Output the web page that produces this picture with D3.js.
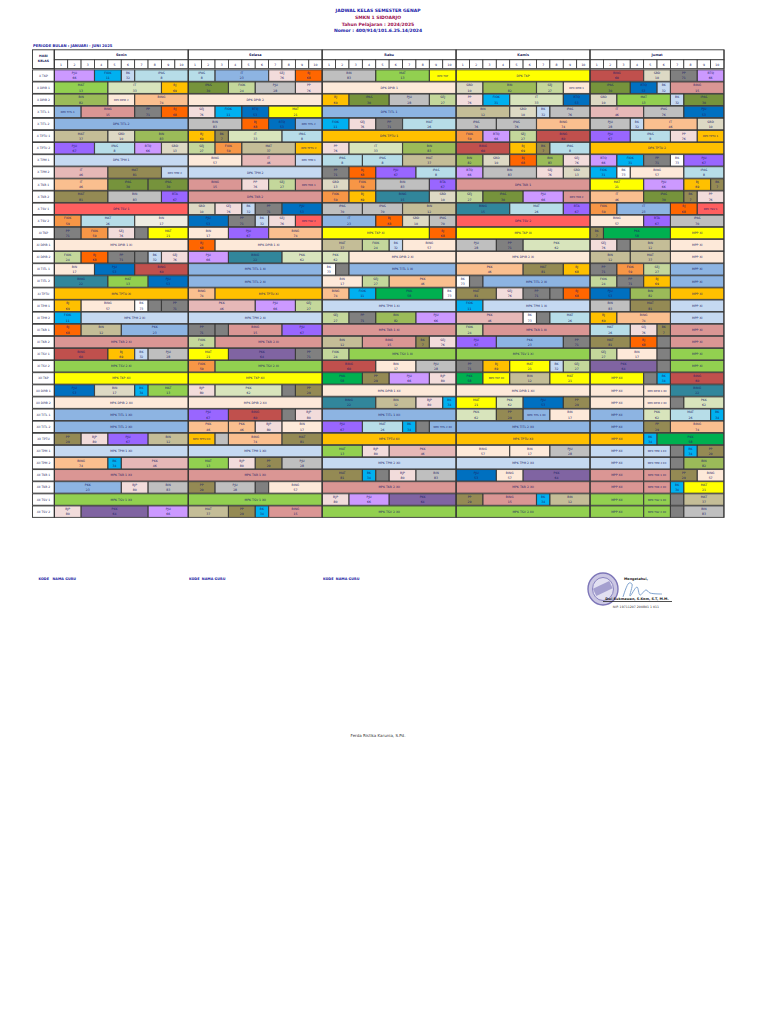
<!DOCTYPE html>
<html>
<head>
<meta charset="utf-8">
<title>Jadwal Kelas Semester Genap</title>
<script src="https://cdn.jsdelivr.net/npm/d3@7"></script>
<style>
  html, body { margin: 0; background: #fff; }
  svg { display: block; }
  text { font-family: "DejaVu Sans", sans-serif; }
</style>
</head>
<body>
<svg id="chart" width="768" height="1024"></svg>
<script>
const days = ['Senin', 'Selasa', 'Rabu', 'Kamis', 'Jumat'];
const slotLabels = [1, 2, 3, 4, 5, 6, 7, 8, 9, 10];
const classes = [
  'X TKP', 'X DPIB 1', 'X DPIB 2', 'X TITL 1', 'X TITL 2', 'X TPTU 1', 'X TPTU 2', 'X TPM 1', 'X TPM 2',
  'X TKR 1', 'X TKR 2', 'X TSV 1', 'X TSV 2',
  'XI TKP', 'XI DPIB 1', 'XI DPIB 2', 'XI TITL 1', 'XI TITL 2', 'XI TPTU', 'XI TPM 1', 'XI TPM 2',
  'XI TKR 1', 'XI TKR 2', 'XI TSV 1', 'XI TSV 2',
  'XII TKP', 'XII DPIB 1', 'XII DPIB 2', 'XII TITL 1', 'XII TITL 2', 'XII TPTU', 'XII TPM 1', 'XII TPM 2',
  'XII TKR 1', 'XII TKR 2', 'XII TSV 1', 'XII TSV 2'
];
const titleLines = ['JADWAL KELAS SEMESTER GENAP', 'SMKN 1 SIDOARJO', 'Tahun Pelajaran : 2024/2025', 'Nomor :  400/914/101.6.25.14/2024'];
const periodLabel = 'PERIODE BULAN : JANUARI - JUNI 2025';
const footerHeads = ['KODE   NAMA GURU', 'KODE  NAMA GURU', 'KODE  NAMA GURU'];

// one line per class: periods/subject/teacher code/colour group, read left to right over the week
const schedule = [
  '3/PJU/66/L 2/FIOK/11/B 1/BK/32/l 4/IPAS/8/t 2/IPAS/8/t 4/IT/23/s 2/SEJ/76/P 2/BJ/68/O 4/BIN/83/g 4/MAT/13/G 2/DPK TKP//y 10/DPK TKP//y 4/BING/60/R 2/SBD/10/k 2/PP/71/D 2/BTQ/66/L',
  '4/MAT/13/G 4/IT/33/e 2/BJ/69/a 3/IPAS/30/w 2/FIOK/24/c 3/PJU/28/g 2/PP/76/P 10/DPK DPIB 1//n 2/SBD/10/k 4/BIN/82/o 2/SEJ/27/c 2/DPK DPIB 1//n 3/IPAS/30/w 2/BTQ/53/b 1/BK/32/l 4/BING/15/r',
  '4/BIN/82/o 2/DPK DPIB 2//n 4/BING/74/q 10/DPK DPIB 2//n 2/BJ/69/a 3/IPAS/30/w 3/PJU/28/g 2/SEJ/27/c 2/PP/76/P 2/FIOK/31/B 4/IT/33/e 2/BTQ/53/b 2/SBD/10/k 4/MAT/13/G 1/BK/32/l 3/IPAS/30/w',
  '2/DPK TITL 1//s 4/BING/15/r 2/PP/71/D 2/BJ/68/O 2/SEJ/76/P 2/FIOK/11/B 2/BTQ/53/b 4/MAT/21/y 10/DPK TITL 1//s 4/BIN/12/h 2/SBD/10/k 1/BK/32/l 3/IPAS/76/g 4/IT/46/m 3/IPAS/76/g 3/PJU/53/b',
  '10/DPK TITL 2//s 4/BIN/83/g 2/BJ/68/O 2/BTQ/53/b 2/DPK TITL 2//s 2/FIOK/11/B 2/SEJ/76/P 2/PP/71/D 4/MAT/26/t 3/IPAS/76/g 3/IPAS/76/g 4/BING/74/q 3/PJU/28/g 1/BK/32/l 4/IT/46/q 2/SBD/10/k',
  '4/MAT/37/h 2/SBD/10/k 4/BIN/83/o 2/BJ/69/a 1/BK/7/f 4/IT/33/e 3/IPAS/8/t 10/DPK TPTU 1//a 2/FIOK/59/u 2/BTQ/66/L 2/SEJ/27/c 4/BING/60/R 3/PJU/67/V 3/IPAS/8/t 2/PP/76/P 2/DPK TPTU 1//a',
  '3/PJU/67/V 3/IPAS/8/t 2/BTQ/66/L 2/SBD/13/k 2/SEJ/27/c 2/FIOK/59/u 4/MAT/37/h 2/DPK TPTU 2//a 2/PP/76/P 4/IT/33/e 4/BIN/83/o 4/BING/60/R 2/BJ/69/a 1/BK/7/f 3/IPAS/8/t 10/DPK TPTU 2//a',
  '10/DPK TPM 1//l 4/BING/57/n 4/IT/46/m 2/DPK TPM 1//l 3/IPAS/8/t 3/IPAS/8/t 4/MAT/37/h 2/BIN/82/o 2/SBD/10/k 2/BJ/68/O 2/BIN/83/o 2/SEJ/76/P 2/BTQ/66/L 2/FIOK/31/B 2/PP/71/D 1/BK/73/W 3/PJU/67/V',
  '4/IT/46/m 4/MAT/81/f 2/DPK TPM 2//l 10/DPK TPM 2//l 2/PP/71/D 2/BJ/68/O 3/PJU/67/V 3/IPAS/8/t 2/BTQ/66/L 4/BIN/83/g 2/SEJ/76/P 2/SBD/13/k 2/FIOK/31/B 1/BK/73/W 4/BING/57/n 3/IPAS/8/t',
  '4/IT/46/q 3/IPAS/30/w 3/IPAS/30/w 4/BING/15/r 2/PP/76/P 2/SEJ/27/c 2/DPK TKR 1//r 2/SBD/13/k 2/FIOK/59/u 4/BIN/83/g 2/BTA/67/V 10/DPK TKR 1//r 4/MAT/21/y 3/PJU/66/L 2/BJ/69/a 1/BK/7/f',
  '4/MAT/81/f 4/BIN/83/g 2/BTA/67/V 10/DPK TKR 2//r 2/FIOK/59/u 2/BJ/69/a 4/BING/15/T 2/SBD/10/k 2/SEJ/27/c 3/IPAS/30/w 3/PJU/66/L 2/DPK TKR 2//r 4/IT/46/q 3/IPAS/30/w 1/BK/7/f 2/PP/76/P',
  '10/DPK TSV 1//Z 2/SBD/10/k 2/SEJ/76/P 1/BK/32/l 2/PP/71/D 3/PJU/53/b 3/IPAS/70/g 3/IPAS/70/g 4/BIN/12/h 4/BING/15/T 4/MAT/26/t 2/BTA/67/V 2/FIOK/59/u 4/IT/23/s 2/BJ/68/O 2/DPK TSV 1//Z',
  '2/FIOK/59/u 4/MAT/26/t 4/BIN/17/x 3/PJU/53/b 2/PP/71/D 1/BK/32/l 2/SEJ/76/P 2/DPK TSV 2//Z 4/IT/23/s 2/BJ/68/O 2/SBD/10/k 2/IPAS/70/g 10/DPK TSV 2//Z 4/BING/57/n 2/BTA/67/V 4/IPAS/70/g',
  '2/PP/71/D 2/FIOK/59/u 2/SEJ/76/P 1///D 3/MAT/21/y 3/BIN/17/n 3/PJU/67/V 4/BING/74/q 8/MPK TKP XI//y 2/BJ/68/O 10/MPK TKP XI//y 1/BK/7/f 5/PKK/58/E 4/MPP XI//y',
  '10/MPK DPIB 1 XI//n 2/BJ/68/O 8/MPK DPIB 1 XI//n 3/MAT/37/h 2/FIOK/24/c 1/BK/32/l 4/BING/57/n 3/PJU/28/g 2/PP/71/D 5/PKK/62/e 2/SEJ/76/P 1///D 3/BIN/12/h 4/MPP XI//n',
  '2/FIOK/24/c 2/BJ/68/O 2/PP/71/D 1///D 1/BK/32/l 2/SEJ/76/P 3/PJU/66/L 4/BING/22/T 3/PKK/62/e 2/PKK/62/e 8/MPK DPIB 2 XI//n 10/MPK DPIB 2 XI//n 3/BIN/12/h 3/MAT/37/h 4/MPP XI//n',
  '3/BIN/17/n 3/PJU/53/b 4/BING/60/R 10/MPK TITL 1 XI//s 1/BK/73/W 1///D 8/MPK TITL 1 XI//s 5/PKK/46/q 3/MAT/81/f 2/BJ/68/a 2/PP/71/D 2/FIOK/59/u 2/SEJ/27/c 4/MPP XI//s',
  '4/BING/22/T 3/MAT/13/G 3/PJU/53/b 10/MPK TITL 2 XI//s 3/BIN/17/n 2/SEJ/27/c 5/PKK/46/q 1/BK/73/W 1///D 8/MPK TITL 2 XI//s 2/FIOK/24/c 2/PP/71/D 2/BJ/69/a 4/MPP XI//s',
  '10/MPK TPTU XI//a 2/BING/74/q 8/MPK TPTU XI//a 2/BING/74/q 2/FIOK/11/B 5/PKK/58/E 1/BK/73/W 3/MAT/81/f 2/SEJ/76/P 2/PP/71/D 1///D 2/BJ/68/O 3/PJU/53/b 3/BIN/82/o 4/MPP XI//a',
  '2/BJ/69/a 4/BING/57/n 1/BK/73/W 1///D 2/PP/71/D 5/PKK/46/m 3/PJU/66/L 2/SEJ/27/c 10/MPK TPM 1 XI//l 2/FIOK/11/B 8/MPK TPM 1 XI//l 3/BIN/83/g 3/MAT/81/f 4/MPP XI//l',
  '2/FIOK/11/B 8/MPK TPM 2 XI//l 10/MPK TPM 2 XI//l 2/SEJ/27/c 2/PP/71/D 3/BIN/82/o 3/PJU/66/L 5/PKK/46/m 1/BK/73/W 1///D 3/MAT/26/t 2/BJ/69/a 4/BING/74/q 4/MPP XI//l',
  '2/BJ/68/O 3/BIN/12/h 5/PKK/23/s 2/PP/71/D 1///D 4/BING/15/r 3/PJU/67/V 10/MPK TKR 1 XI//r 2/FIOK/24/c 8/MPK TKR 1 XI//r 3/MAT/26/t 2/SEJ/76/P 1/BK/7/f 4/MPP XI//r',
  '10/MPK TKR 2 XI//r 2/FIOK/24/c 8/MPK TKR 2 XI//r 3/BIN/12/h 4/BING/15/r 1/BK/7/f 2/SEJ/76/P 3/PJU/67/V 5/PKK/23/s 2/PP/71/D 3/MAT/81/f 2/BJ/68/O 1///D 4/MPP XI//r',
  '4/BING/60/R 2/BJ/69/a 1/BK/32/l 3/PJU/28/g 3/MAT/21/y 5/PKK/64/i 2/PP/71/D 2/FIOK/24/c 8/MPK TSV 1 XI//G 10/MPK TSV 1 XI//G 2/SEJ/27/c 3/BIN/17/n 1///D 4/MPP XI//G',
  '10/MPK TSV 2 XI//G 2/FIOK/59/u 8/MPK TSV 2 XI//G 4/BING/60/R 3/BIN/17/n 3/PJU/28/g 2/PP/71/D 2/BJ/69/a 3/MAT/21/y 1/BK/32/l 2/SEJ/27/c 5/PKK/64/i 1///D 4/MPP XI//G',
  '10/MPK TKP XII//y 10/MPK TKP XII//y 3/PKK/58/E 2/PP/29/f 3/PJU/66/L 2/BJP/80/P 2/PKK/58/E 2/MPK TKP XII//y 3/BIN/12/h 3/MAT/21/y 4/MPP XII//y 1///D 1/BK/34/B 4/BING/60/R',
  '3/PJU/53/b 3/BIN/17/k 1/BK/34/B 3/MAT/13/G 2/BJP/80/P 5/PKK/62/e 1///D 2/PP/29/f 10/MPK DPIB 1 XII//n 10/MPK DPIB 1 XII//n 4/MPP XII//n 2/MPK DPIB 1 XII//n 4/BING/22/T',
  '10/MPK DPIB 2 XII//n 10/MPK DPIB 2 XII//n 4/BING/22/T 3/BIN/12/h 2/BJP/80/P 1/BK/34/B 3/MAT/21/y 2/PKK/62/e 3/PJU/53/b 2/PP/29/f 4/MPP XII//n 2/MPK DPIB 2 XII//n 1///D 3/PKK/62/e',
  '10/MPK TITL 1 XII//s 3/PJU/67/V 4/BING/60/R 1///D 2/BJP/80/P 10/MPK TITL 1 XII//s 3/PKK/62/e 2/PP/29/f 2/MPK TITL 1 XII//s 3/BIN/17/n 4/MPP XII//s 2/PKK/62/e 3/MAT/26/t 1/BK/34/B',
  '10/MPK TITL 2 XII//s 3/PKK/46/q 2/PKK/46/q 2/BJP/80/P 3/BIN/17/n 3/PJU/67/V 3/MAT/26/t 1/BK/34/B 1///D 2/MPK TITL 2 XII//s 10/MPK TITL 2 XII//s 4/MPP XII//s 2/PP/29/f 4/BING/74/q',
  '2/PP/29/f 2/BJP/80/P 3/PJU/67/V 3/BIN/12/h 2/MPK TPTU XII//a 1///g 4/BING/74/q 3/MAT/81/f 10/MPK TPTU XII//a 10/MPK TPTU XII//a 4/MPP XII//a 1/BK/34/B 5/PKK/58/E',
  '10/MPK TPM 1 XII//l 10/MPK TPM 1 XII//l 3/MAT/13/G 2/BJP/80/P 5/PKK/46/m 4/BING/57/n 3/BIN/17/n 3/PJU/28/g 4/MPP XII//l 2/MPK TPM 1 XII//l 1///D 1/BK/34/B 2/PP/29/f',
  '4/BING/74/q 1/BK/34/B 5/PKK/46/m 3/MAT/13/G 2/BJP/80/P 2/PP/29/f 3/PJU/28/g 10/MPK TPM 2 XII//l 10/MPK TPM 2 XII//l 4/MPP XII//l 2/MPK TPM 2 XII//l 1///D 3/BIN/82/o',
  '10/MPK TKR 1 XII//r 10/MPK TKR 1 XII//r 3/MAT/81/f 1/BK/34/B 1///D 2/BJP/80/P 3/BIN/83/g 3/PJU/53/b 2/BING/57/n 5/PKK/64/i 4/MPP XII//r 2/MPK TKR 1 XII//r 2/PP/29/f 2/BING/57/n',
  '5/PKK/23/s 2/BJP/80/P 3/BIN/83/g 2/PP/29/f 3/PJU/28/g 1///D 4/BING/57/n 10/MPK TKR 2 XII//r 10/MPK TKR 2 XII//r 4/MPP XII//r 2/MPK TKR 2 XII//r 1/BK/34/B 3/MAT/21/y',
  '10/MPK TSV 1 XII//G 10/MPK TSV 1 XII//G 2/BJP/80/P 3/PJU/66/L 5/PKK/64/i 2/PP/29/f 4/BING/15/r 1/BK/34/B 3/BIN/12/h 4/MPP XII//G 2/MPK TSV 1 XII//G 1///D 3/MAT/37/h',
  '2/BJP/80/P 5/PKK/64/i 3/PJU/66/L 3/MAT/37/h 2/PP/29/f 1/BK/34/B 4/BING/15/r 10/MPK TSV 2 XII//G 10/MPK TSV 2 XII//G 4/MPP XII//G 2/MPK TSV 2 XII//G 1///D 3/BIN/83/g'
];

// colour groups used in the schedule strings
const palette = {
  L: '#cc99ff', B: '#00b0f0', l: '#c5d9f1', t: '#b7dde8', s: '#8db4e2', P: '#f2dcdb', O: '#ff6600',
  g: '#bfbfbf', G: '#92d050', y: '#ffff00', R: '#c0504d', k: '#ddd9c4', D: '#808080', V: '#9966ff',
  e: '#d8e4bc', a: '#ffc000', w: '#76933c', o: '#9bbb59', c: '#c4d79b', b: '#0070c0', n: '#fde9d9',
  q: '#fabf8f', r: '#da9694', m: '#e6b8b7', h: '#c4bd97', f: '#948a54', u: '#f79646', T: '#31869b',
  E: '#00b050', W: '#ffffff', Z: '#ff5f5f', i: '#8064a2', x: '#eeece1'
};

const svg = d3.select('#chart');
const textColor = '#1e1e66';
const lineColor = '#333';

const x = d3.scaleLinear().domain([0, 50]).range([54.3, 724]);
const y = d3.scaleBand().domain(classes).range([69.5, 517.7]);
const leftEdge = 32.5;

// titles
svg.selectAll('.title')
  .data(titleLines)
  .enter().append('text')
    .attr('x', 378)
    .attr('y', (d, i) => [11.5, 18.5, 25.5, 31.8][i])
    .attr('text-anchor', 'middle')
    .attr('font-size', 4.5)
    .attr('font-weight', 'bold')
    .attr('fill', (d, i) => (i === 1 || i === 2) ? '#9c1050' : '#2020a8')
    .text((d) => d);

svg.append('text')
  .attr('x', leftEdge + 0.5)
  .attr('y', 46.5)
  .attr('font-size', 3.7)
  .attr('font-weight', 'bold')
  .attr('fill', '#2020a0')
  .text(periodLabel);

// header
const head = svg.append('g');
head.append('rect')
  .attr('x', leftEdge).attr('y', 49.8)
  .attr('width', x(0) - leftEdge).attr('height', y.range()[0] - 49.8 - 1)
  .attr('fill', '#fff').attr('stroke', lineColor).attr('stroke-width', 0.9);
head.selectAll('.hk')
  .data(['HARI', 'KELAS'])
  .enter().append('text')
    .attr('x', (leftEdge + x(0)) / 2)
    .attr('y', (d, i) => 56.5 + i * 5.5)
    .attr('text-anchor', 'middle')
    .attr('font-size', 3.2)
    .attr('font-weight', 'bold')
    .attr('fill', '#1a1a5a')
    .text((d) => d);

const dayHead = head.selectAll('.day')
  .data(days)
  .enter().append('g');
dayHead.append('rect')
  .attr('x', (d, i) => x(i * 10)).attr('y', 49.8)
  .attr('width', x(10) - x(0)).attr('height', 10)
  .attr('fill', '#fff').attr('stroke', lineColor).attr('stroke-width', 0.9);
dayHead.append('text')
  .attr('x', (d, i) => x(i * 10 + 5))
  .attr('y', 56)
  .attr('text-anchor', 'middle')
  .attr('font-size', 3.4)
  .attr('font-weight', 'bold')
  .attr('fill', '#1a1a5a')
  .text((d) => d);

const slots = d3.range(days.length * slotLabels.length);
head.selectAll('.slot')
  .data(slots)
  .enter().append('rect')
    .attr('x', (d) => x(d)).attr('y', 59.8)
    .attr('width', x(1) - x(0)).attr('height', 8.7)
    .attr('fill', '#fff').attr('stroke', lineColor).attr('stroke-width', 0.8);
head.selectAll('.slotText')
  .data(slots)
  .enter().append('text')
    .attr('x', (d) => x(d + 0.5))
    .attr('y', 65.6)
    .attr('text-anchor', 'middle')
    .attr('font-size', 3.1)
    .attr('fill', '#1a1a5a')
    .text((d) => slotLabels[d % 10]);

// class labels
const gap = 0.35;
svg.selectAll('.classLabel')
  .data(classes)
  .enter().append('rect')
    .attr('x', leftEdge)
    .attr('y', (d) => y(d) + gap)
    .attr('width', x(0) - leftEdge)
    .attr('height', y.bandwidth() - gap * 2)
    .attr('fill', '#fff').attr('stroke', lineColor).attr('stroke-width', 0.9);
svg.selectAll('.classText')
  .data(classes)
  .enter().append('text')
    .attr('x', (leftEdge + x(0)) / 2)
    .attr('y', (d) => y(d) + y.bandwidth() / 2 + 1)
    .attr('text-anchor', 'middle')
    .attr('font-size', 3)
    .attr('fill', '#1a1a5a')
    .text((d) => d);

// lessons: a new one starts at a space followed by span/Subject, or by span/// for an empty cell
const lessons = schedule.flatMap((row, r) => {
  let start = 0;
  return row.split(/ (?=\d+\/(?:[A-Z]|\/\/))/).map((part) => {
    const [span, subject, code, group] = part.split('/');
    const cell = {cls: classes[r], start, span: +span, subject, code, group};
    start += +span;
    return cell;
  });
});

const cells = svg.selectAll('.lesson')
  .data(lessons)
  .enter().append('g');
cells.append('rect')
  .attr('x', (d) => x(d.start) + 0.15)
  .attr('y', (d) => y(d.cls) + gap)
  .attr('width', (d) => x(d.start + d.span) - x(d.start) - 0.3)
  .attr('height', y.bandwidth() - gap * 2)
  .attr('fill', (d) => palette[d.group])
  .attr('stroke', lineColor)
  .attr('stroke-width', 0.85);
cells.filter((d) => d.subject)
  .append('text')
    .attr('x', (d) => x(d.start + d.span / 2))
    .attr('y', (d) => y(d.cls) + (d.code ? 4.6 : 7.1))
    .attr('text-anchor', 'middle')
    .attr('font-size', (d) => (!d.code && d.span <= 2) ? 2.6 : 3.1)
    .attr('fill', textColor)
    .text((d) => d.subject);
cells.filter((d) => d.code)
  .append('text')
    .attr('x', (d) => x(d.start + d.span / 2))
    .attr('y', (d) => y(d.cls) + 9.9)
    .attr('text-anchor', 'middle')
    .attr('font-size', 3.1)
    .attr('fill', textColor)
    .text((d) => d.code);

// day separators on top of the lessons
svg.selectAll('.sep')
  .data(d3.range(days.length + 1))
  .enter().append('line')
    .attr('x1', (d) => x(d * 10)).attr('x2', (d) => x(d * 10))
    .attr('y1', 49.8).attr('y2', y.range()[1])
    .attr('stroke', lineColor).attr('stroke-width', 1);

// footer
svg.selectAll('.foot')
  .data(footerHeads)
  .enter().append('text')
    .attr('x', (d, i) => [38.5, 189, 323][i])
    .attr('y', 579.5)
    .attr('font-size', 3.4)
    .attr('font-weight', 'bold')
    .attr('fill', '#2020a0')
    .attr('xml:space', 'preserve')
    .text((d) => d);

// stamp and signature
const stamp = svg.append('g').attr('transform', 'translate(603,589)');
stamp.append('ellipse').attr('rx', 15).attr('ry', 16)
  .attr('fill', '#cbc7e3').attr('stroke', '#7d76b8').attr('stroke-width', 1.4);
stamp.append('ellipse').attr('rx', 10.5).attr('ry', 11.5)
  .attr('fill', '#e2e0f1').attr('stroke', '#8a84c0').attr('stroke-width', 1);
stamp.append('rect').attr('x', -9).attr('y', -4.5).attr('width', 18).attr('height', 8)
  .attr('transform', 'rotate(-25)').attr('fill', '#a5a0cf');
svg.append('path')
  .attr('d', d3.line().curve(d3.curveCatmullRom)([[623, 597], [629, 583], [632, 584], [630, 596], [637, 587], [640, 595], [646, 590], [650, 593], [662, 594]]))
  .attr('fill', 'none').attr('stroke', '#7fa3cf').attr('stroke-width', 1);

svg.append('text').attr('x', 636).attr('y', 579.5).attr('text-anchor', 'middle')
  .attr('font-size', 3.4).attr('font-weight', 'bold').attr('fill', '#222').text('Mengetahui,');
svg.append('text').attr('x', 637).attr('y', 600).attr('text-anchor', 'middle')
  .attr('font-size', 3.4).attr('font-weight', 'bold').attr('fill', '#222').text('Dwi Sukmawan, S.Kom, S.T, M.M.');
svg.append('line').attr('x1', 603).attr('x2', 672).attr('y1', 601.5).attr('y2', 601.5)
  .attr('stroke', '#222').attr('stroke-width', 0.8);
svg.append('text').attr('x', 636).attr('y', 607.5).attr('text-anchor', 'middle')
  .attr('font-size', 3.2).attr('fill', '#333').text('NIP. 19711207 200801 1 011');

svg.append('text').attr('x', 378).attr('y', 736.5).attr('text-anchor', 'middle')
  .attr('font-size', 4).attr('font-family', 'Liberation Sans Narrow, Liberation Sans, sans-serif').attr('fill', '#333')
  .text('Ferda Ristika Karunia, S.Pd.');
</script>
</body>
</html>
